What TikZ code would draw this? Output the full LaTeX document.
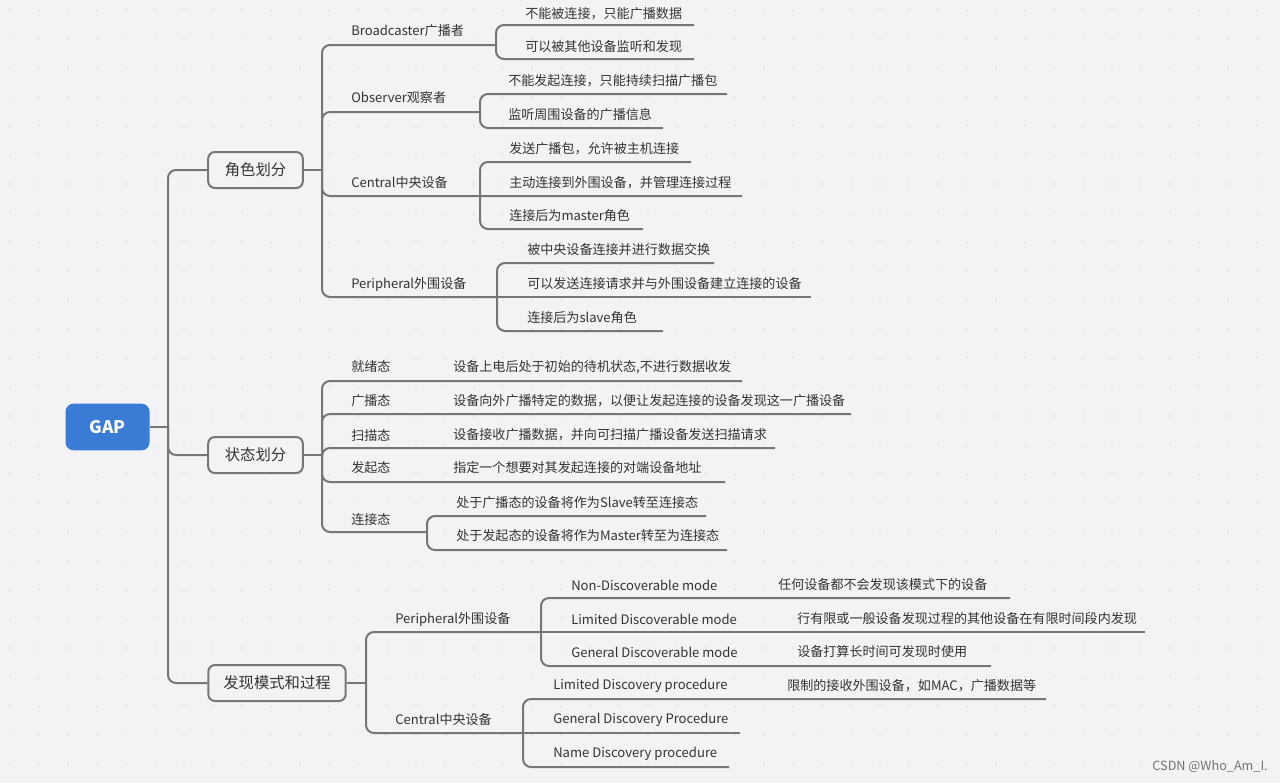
\documentclass[tikz,border=0pt]{standalone}
\usepackage{fontspec}
\setmainfont{Noto Sans CJK SC}
\begin{document}
\begin{tikzpicture}[x=0.75pt,y=-0.75pt,
  ln/.style={draw=lncol,line width=1.5pt,rounded corners=6pt},
  lbl/.style={anchor=west,inner sep=0,font=\fontsize{9.8}{11}\selectfont,text=txt},
  box/.style={draw=lncol,line width=1.5pt,rounded corners=5pt,fill=bg,minimum height=27pt,inner xsep=10pt,font=\fontsize{11.5}{13}\selectfont,text=txt}]
\definecolor{bg}{HTML}{F3F3F5}
\definecolor{lncol}{HTML}{767676}
\definecolor{txt}{HTML}{333333}
\definecolor{gapblue}{HTML}{3A7BD5}
\fill[bg] (0,0) rectangle (1280,783);
\useasboundingbox (0,0) rectangle (1280,783);
\foreach \i in {0,...,44}{\foreach \j in {0,...,27}{\fill[black!25] (10+29*\i,10+29*\j) circle (0.5pt);}}
% main trunk
\node[fill=gapblue,rounded corners=6pt,minimum width=63pt,minimum height=35pt,text=white,font=\fontsize{13}{15}\selectfont\bfseries] (gap) at (107.5,427) {GAP};
\draw[ln] (gap.east) -- (168,427);
\node[box,minimum width=71pt] (r1) at (255.5,170) {角色划分};
\node[box,minimum width=71pt] (r2) at (255.5,455) {状态划分};
\node[box,minimum width=103pt] (r3) at (277,683) {发现模式和过程};
\draw[ln] (168,427) |- (r1.west);
\draw[ln] (168,427) |- (r2.west);
\draw[ln] (168,427) |- (r3.west);
% ---- 角色划分
\draw[ln] (r1.east) -- (322,170);
\draw[ln] (322,170) |- (496,45); \node[lbl] (b) at (351,31) {Broadcaster广播者};
\draw[ln] (322,170) |- (480,112); \node[lbl] (o) at (351,98) {Observer观察者};
\draw[ln] (322,170) |- (742,196); \node[lbl] (c) at (351,183) {Central中央设备};
\draw[ln] (322,170) |- (497,297); \node[lbl] (p) at (351,284) {Peripheral外围设备};
\draw[ln] (496,45) |- (694,25); \node[lbl] at (525,14) {不能被连接，只能广播数据};
\draw[ln] (496,45) |- (694,59); \node[lbl] at (525,47) {可以被其他设备监听和发现};
\draw[ln] (480,112) |- (727,94); \node[lbl] at (508,81) {不能发起连接，只能持续扫描广播包};
\draw[ln] (480,112) |- (663,128); \node[lbl] at (508,115) {监听周围设备的广播信息};
\draw[ln] (480,196) |- (691,162); \node[lbl] at (509,149) {发送广播包，允许被主机连接};
\node[lbl] at (509,183) {主动连接到外围设备，并管理连接过程};
\draw[ln] (480,196) |- (643,229); \node[lbl] at (509,216) {连接后为master角色};
\draw[ln] (497,297) |- (714,263); \node[lbl] at (527,250) {被中央设备连接并进行数据交换};
\draw[ln] (497,297) -- (811,297); \node[lbl] at (527,284) {可以发送连接请求并与外围设备建立连接的设备};
\draw[ln] (497,297) |- (663,331); \node[lbl] at (527,318) {连接后为slave角色};
% ---- 状态划分
\draw[ln] (r2.east) -- (322,455);
\draw[ln] (322,455) |- (742,381); \node[lbl] at (351,367) {就绪态}; \node[lbl] at (453,367) {设备上电后处于初始的待机状态,不进行数据收发};
\draw[ln] (322,455) |- (851,414); \node[lbl] at (351,401) {广播态}; \node[lbl] at (453,401) {设备向外广播特定的数据，以便让发起连接的设备发现这一广播设备};
\draw[ln] (322,455) |- (775,448); \node[lbl] at (351,435) {扫描态}; \node[lbl] at (453,435) {设备接收广播数据，并向可扫描广播设备发送扫描请求};
\draw[ln] (322,455) |- (725,482); \node[lbl] at (351,468) {发起态}; \node[lbl] at (453,468) {指定一个想要对其发起连接的对端设备地址};
\draw[ln] (322,455) |- (427,532); \node[lbl] at (351,520) {连接态};
\draw[ln] (427,532) |- (706,516); \node[lbl] at (456,503) {处于广播态的设备将作为Slave转至连接态};
\draw[ln] (427,532) |- (727,550); \node[lbl] at (456,536) {处于发起态的设备将作为Master转至为连接态};
% ---- 发现模式和过程
\draw[ln] (r3.east) -- (366,683);
\draw[ln] (366,683) |- (541,632); \node[lbl] at (395,619) {Peripheral外围设备};
\draw[ln] (366,683) |- (523,733); \node[lbl] at (395,720) {Central中央设备};
\draw[ln] (541,632) |- (1010,598); \node[lbl] at (571,585) {Non-Discoverable mode}; \node[lbl] at (778,585) {任何设备都不会发现该模式下的设备};
\draw[ln] (541,632) -- (1145,632); \node[lbl] at (571,619) {Limited Discoverable mode}; \node[lbl] at (797,619) {行有限或一般设备发现过程的其他设备在有限时间段内发现};
\draw[ln] (541,632) |- (991,666); \node[lbl] at (571,652) {General Discoverable mode}; \node[lbl] at (797,652) {设备打算长时间可发现时使用};
\draw[ln] (523,733) |- (1046,699); \node[lbl] at (553,686) {Limited Discovery procedure}; \node[lbl] at (787,686) {限制的接收外围设备，如MAC，广播数据等};
\draw[ln] (523,733) -- (740,733); \node[lbl] at (553,720) {General Discovery Procedure};
\draw[ln] (523,733) |- (729,767); \node[lbl] at (553,754) {Name Discovery procedure};
\node[anchor=east,inner sep=0,font=\fontsize{9.5}{11}\selectfont,text=black!55] (wm) at (1268,767) {CSDN @Who\_Am\_I.};
\end{tikzpicture}
\end{document}
